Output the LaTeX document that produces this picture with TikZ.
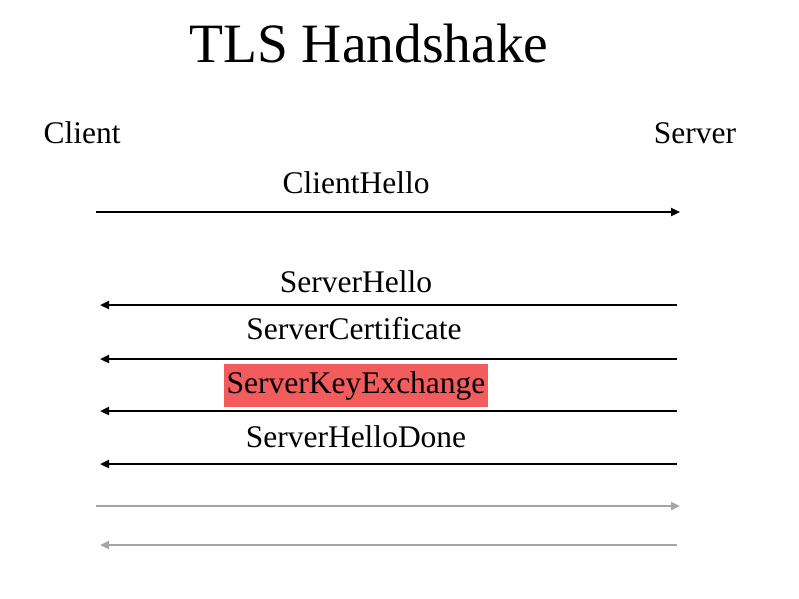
\documentclass[tikz,border=0pt]{standalone}
\usepackage{fontspec}
\setmainfont{Liberation Serif}
\usetikzlibrary{arrows.meta}
\definecolor{hl}{RGB}{242,92,92}
\definecolor{faint}{RGB}{165,165,165}
\tikzset{
  lbl/.style={anchor=base, inner sep=0pt, font=\fontsize{31.5}{38}\selectfont},
  ttl/.style={anchor=base, inner sep=0pt, font=\fontsize{55.5}{66}\selectfont},
  msg/.style={line width=2.2pt, -{Triangle[length=9pt,width=8pt]}},
  ghost/.style={msg, draw=faint, faint},
}
\begin{document}
\begin{tikzpicture}[x=1pt,y=-1pt]
\useasboundingbox[fill=white] (0,0) rectangle (799,598);
\node[ttl] (title) at (369,62) {TLS Handshake};
\node[lbl] (client) at (82,143) {Client};
\node[lbl] (server) at (695,143) {Server};
% coordinates of message ends
\coordinate (c1) at (96,212);  \coordinate (s1) at (680,212);
\coordinate (c2) at (100,305); \coordinate (s2) at (677,305);
\coordinate (c3) at (100,359); \coordinate (s3) at (677,359);
\coordinate (c4) at (100,411); \coordinate (s4) at (677,411);
\coordinate (c5) at (100,464); \coordinate (s5) at (677,464);
\coordinate (c6) at (96,506);  \coordinate (s6) at (680,506);
\coordinate (c7) at (100,545); \coordinate (s7) at (677,545);
\node[lbl] (m1) at (356,193) {ClientHello};
\node[lbl] (m2) at (356,292) {ServerHello};
\node[lbl] (m3) at (354,339) {ServerCertificate};
\node[fill=hl, inner sep=0pt, minimum width=264pt, minimum height=43pt,
      font=\fontsize{31.5}{38}\selectfont] (m4) at (356,385.5) {ServerKeyExchange};
\node[lbl] (m5) at (356,447) {ServerHelloDone};
\draw[msg] (c1) -- (s1);
\draw[msg] (s2) -- (c2);
\draw[msg] (s3) -- (c3);
\draw[msg] (s4) -- (c4);
\draw[msg] (s5) -- (c5);
\draw[ghost] (c6) -- (s6);
\draw[ghost] (s7) -- (c7);
\end{tikzpicture}
\end{document}
